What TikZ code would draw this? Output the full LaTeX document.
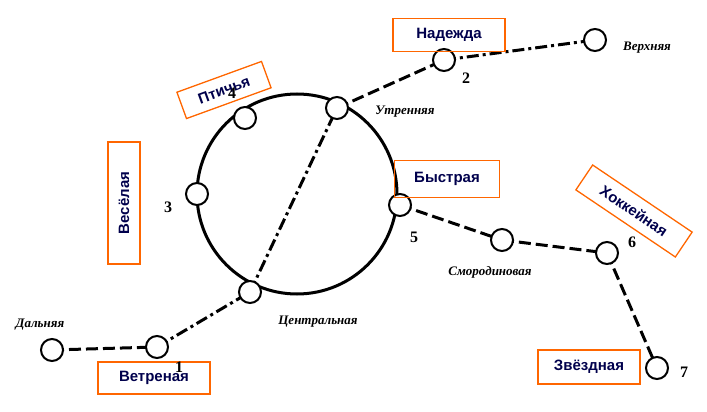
\documentclass[tikz,border=0pt]{standalone}
\usepackage{fontspec}
\setmainfont{Liberation Serif}
\newfontfamily\boxfont{Liberation Sans}
\begin{document}
\begin{tikzpicture}[x=1pt,y=-1pt,
  st/.style={circle,draw,line width=2pt,fill=white,minimum size=22pt,inner sep=0pt},
  lab/.style={font=\bfseries\itshape\fontsize{13}{15}\selectfont},
  num/.style={font=\bfseries\fontsize{16}{18}\selectfont},
  nm/.style={draw=orange!80!red,line width=1.3pt,font=\boxfont\bfseries\fontsize{15}{17}\selectfont,text=blue!30!black,inner sep=4pt},
  dl/.style={line width=3pt,dash pattern=on 12pt off 5pt},
  dd/.style={line width=3pt,dash pattern=on 12pt off 4pt on 3pt off 4pt}]
\useasboundingbox (0,0) rectangle (707,412);
\draw[line width=3pt] (297,194) circle (100);
\coordinate (dal) at (52,350);
\coordinate (s1) at (157,347);
\coordinate (cen) at (250,292);
\coordinate (utr) at (337,108);
\coordinate (s4) at (245,118);
\coordinate (s3) at (197,194);
\coordinate (s5) at (400,205);
\coordinate (smo) at (502,240);
\coordinate (s6) at (607,253);
\coordinate (s7) at (657,368);
\coordinate (s2) at (444,60);
\coordinate (ver) at (595,40);
\draw[dl] (dal) -- (s1);
\draw[dd] (s1) -- (cen);
\draw[dd] (cen) -- (utr);
\draw[dl] (utr) -- (s2);
\draw[dd] (s2) -- (ver);
\draw[dl] (s5) -- (smo);
\draw[dl] (smo) -- (s6);
\draw[dl] (s6) -- (s7);
\foreach \n in {dal,s1,cen,utr,s4,s3,s5,smo,s6,s7,s2,ver} \node[st] (st-\n) at (\n) {};
\node[nm,minimum width=112pt,minimum height=32pt] (b1) at (154,378) {Ветреная};
\node[nm,minimum width=112pt,minimum height=33pt] (b2) at (449,35) {Надежда};
\node[nm,rotate=20,minimum width=90pt,minimum height=28pt] (b4) at (224,90) {Птичья};
\node[nm,rotate=90,minimum width=122pt,minimum height=32pt] (b3) at (124,203) {Весёлая};
\node[nm,minimum width=105pt,minimum height=37pt] (b5) at (447,179) {Быстрая};
\node[nm,rotate=-34,minimum width=120pt,minimum height=30pt] (b6) at (634,211) {Хоккейная};
\node[nm,minimum width=102pt,minimum height=34pt] (b7) at (589,367) {Звёздная};
\node[lab] (ldal) at (40,325) {Дальняя};
\node[lab] (lcen) at (318,322) {Центральная};
\node[lab] (lutr) at (405,112) {Утренняя};
\node[lab] (lsmo) at (490,272) {Смородиновая};
\node[lab] (lver) at (647,48) {Верхняя};
\node[num] (n1) at (179,367) {1};
\node[num] (n2) at (466,78) {2};
\node[num] (n3) at (168,207) {3};
\node[num] (n4) at (232,93) {4};
\node[num] (n5) at (414,237) {5};
\node[num] (n6) at (632,242) {6};
\node[num] (n7) at (684,372) {7};
\end{tikzpicture}
\end{document}
